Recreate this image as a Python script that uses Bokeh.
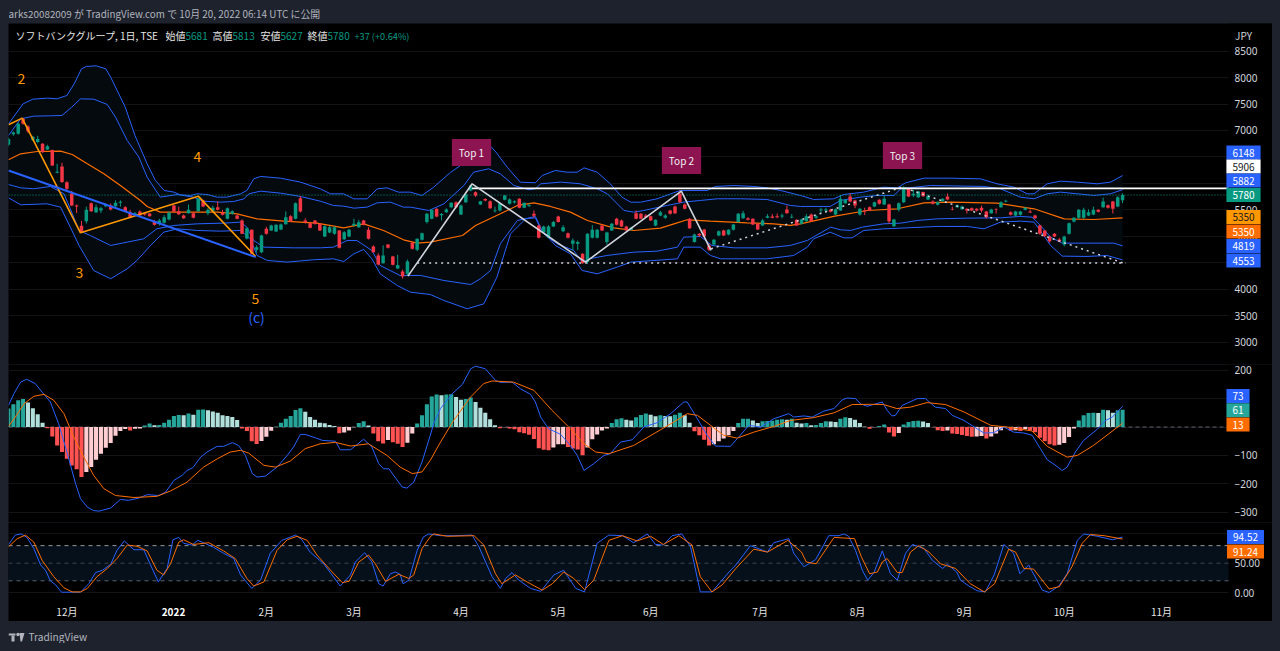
from bokeh.plotting import figure
from bokeh.models import Label, Range1d, FixedTicker, Grid, LinearAxis, NumeralTickFormatter, ColumnDataSource
from bokeh.layouts import column
from bokeh.embed import file_html
from bokeh.resources import INLINE

# ---------- daily candles ----------
opens = [6730,6930,6937,7220,7075,6824,6780,6748,6640,6630,
 6200,6320,6023,5803,5582,5200,5286,5627,5456,5488,
 5570,5583,5570,5633,5550,5456,5406,5469,5438,5431,
 5286,5236,5255,5318,5582,5475,5393,5438,5438,5475,
 5677,5438,5475,5551,5444,5330,5425,5393,5299,4959,
 5123,4745,4700,5141,5110,5091,5129,5230,5381,5330,
 5721,5299,5248,5299,5236,4997,5072,5047,5110,4946,
 4997,5205,5173,5299,5123,4808,4637,4493,4845,4619,
 4392,4335,4290,4877,4745,4934,5268,5330,5519,5400,
 5456,5551,5645,5412,5645,5866,5834,5601,5707,5664,
 5475,5488,5690,5614,5640,5709,5538,5570,5425,5204,
 5078,4971,5186,5375,5097,5060,4858,4860,4669,4512,
 4971,4971,5205,4890,5110,5330,5299,5186,5123,5437,
 5425,5394,5380,5205,5393,5350,5488,5564,5803,5601,
 5330,4890,5047,5129,4826,4845,5015,5110,5034,5123,
 5268,5343,5343,5330,5236,5205,5350,5375,5380,5375,
 5507,5355,5312,5236,5286,5412,5350,5488,5488,5500,
 5412,5488,5627,5753,5677,5412,5488,5551,5564,5690,
 5601,5601,5192,5500,5645,5897,5778,5740,5835,5696,
 5658,5595,5664,5753,5515,5551,5513,5520,5532,5520,
 5538,5469,5438,5513,5551,5660,5456,5394,5406,5500,
 5469,5394,5205,5110,4997,5047,4940,4845,5047,5280,
 5349,5349,5394,5412,5500,5551,5589,5658,5564,5681]
highs = [6870,6980,7150,7240,7100,6900,6900,6760,6730,6640,
 6370,6390,6040,5860,5600,5290,5560,5640,5600,5560,
 5620,5620,5680,5680,5570,5500,5460,5490,5450,5440,
 5310,5330,5400,5470,5590,5560,5410,5600,5460,5730,
 5690,5530,5580,5660,5500,5545,5490,5410,5320,5170,
 5130,4830,5030,5180,5220,5225,5240,5470,5400,5640,
 5760,5340,5260,5310,5245,5210,5200,5190,5120,5100,
 5140,5330,5310,5310,5170,4830,4680,4830,4850,4630,
 4650,4370,4560,4900,4960,5070,5440,5510,5530,5440,
 5530,5640,5660,5600,5810,5970,5850,5670,5720,5680,
 5560,5640,5780,5720,5680,5720,5640,5620,5490,5220,
 5200,5210,5290,5390,5210,5070,4960,4920,4680,5060,
 5210,5140,5220,5085,5250,5350,5315,5200,5180,5490,
 5440,5420,5390,5320,5480,5420,5500,5580,5860,5620,
 5345,5050,5060,5140,4860,4950,5110,5125,5135,5235,
 5440,5480,5360,5340,5250,5330,5420,5420,5430,5430,
 5580,5420,5320,5330,5420,5430,5400,5540,5540,5520,
 5525,5780,5700,5810,5690,5530,5540,5565,5655,5700,
 5770,5615,5330,5640,5945,5910,5880,5860,5845,5790,
 5680,5660,5720,5810,5560,5600,5580,5530,5545,5530,
 5580,5480,5520,5530,5660,5690,5470,5480,5480,5550,
 5510,5410,5220,5120,5010,5060,4970,5010,5260,5360,
 5515,5540,5510,5560,5510,5730,5600,5670,5760,5813]
lows = [6700,6900,6920,7110,6950,6800,6760,6580,6630,6330,
 6190,6010,5870,5570,5440,5070,5240,5460,5440,5440,
 5550,5490,5560,5560,5460,5340,5380,5370,5390,5370,
 5200,5200,5240,5300,5455,5400,5330,5430,5340,5470,
 5550,5400,5460,5490,5395,5320,5410,5320,5040,4940,
 4660,4690,4680,5030,5100,5080,5115,5220,5270,5320,
 5450,5240,5150,5220,5100,4985,5060,5030,4770,4930,
 4985,5190,5160,5205,4940,4690,4450,4480,4770,4450,
 4380,4200,4250,4750,4720,4920,5240,5320,5360,5300,
 5440,5530,5530,5400,5630,5850,5745,5590,5660,5520,
 5450,5470,5680,5600,5620,5530,5530,5560,5350,4960,
 5060,4960,5175,5260,5080,4960,4730,4740,4480,4480,
 4960,4960,5100,4840,5100,5205,5175,5100,5110,5320,
 5320,5350,5290,5190,5380,5330,5410,5420,5630,5510,
 5140,4880,4990,4985,4720,4830,5000,5005,5020,5110,
 5255,5330,5300,5210,5120,5195,5340,5340,5340,5340,
 5430,5340,5195,5225,5275,5275,5330,5440,5440,5450,
 5400,5480,5615,5645,5530,5390,5400,5475,5550,5600,
 5590,5240,5180,5470,5630,5740,5740,5725,5745,5685,
 5600,5585,5650,5680,5490,5540,5500,5430,5475,5470,
 5450,5340,5425,5430,5540,5640,5395,5380,5390,5490,
 5440,5330,5030,4990,4880,4985,4890,4810,5035,5260,
 5330,5330,5380,5400,5450,5540,5525,5430,5550,5627]
closes = [6840,6960,7126,7126,6987,6880,6840,6590,6700,6340,
 6220,6024,5897,5582,5565,5078,5500,5475,5550,5532,
 5590,5507,5633,5652,5475,5350,5438,5393,5412,5381,
 5217,5299,5362,5444,5469,5419,5343,5500,5350,5709,
 5564,5500,5538,5500,5406,5532,5475,5330,5047,5154,
 4669,4795,5015,5047,5205,5217,5223,5362,5286,5627,
 5469,5261,5160,5236,5110,5192,5173,5173,4782,5078,
 5123,5236,5267,5217,4952,4700,4467,4637,4782,4461,
 4455,4240,4525,4763,4952,5060,5425,5500,5375,5420,
 5507,5633,5551,5582,5790,5960,5772,5664,5677,5532,
 5490,5627,5772,5696,5664,5538,5633,5585,5387,4971,
 5186,5186,5268,5268,5173,4971,4921,4890,4493,5047,
 5123,5123,5110,5072,5236,5217,5186,5110,5160,5330,
 5330,5362,5299,5312,5456,5394,5425,5438,5645,5520,
 5154,5034,5015,4997,4745,4934,5097,5015,5123,5223,
 5425,5437,5312,5223,5129,5299,5381,5350,5360,5393,
 5438,5370,5205,5318,5381,5286,5381,5507,5507,5463,
 5513,5708,5690,5658,5582,5520,5470,5488,5645,5614,
 5708,5286,5318,5627,5929,5753,5803,5847,5759,5759,
 5614,5645,5708,5696,5505,5582,5564,5488,5488,5488,
 5488,5362,5507,5500,5645,5670,5406,5469,5469,5538,
 5450,5343,5047,5003,4908,4997,4902,4997,5249,5349,
 5500,5500,5456,5500,5463,5658,5538,5520,5740,5780]

# ---------- Bollinger bands (bar position, price) ----------
u2_k = [0,3,5,8,10,12,13.5,15,16,18,20,21,24,26,28.5,30.2,32,34,35.3,37.4,38.8,40.8,42.9,44.9,47.7,49,50.4,51.8,55.9,60,64.1,66.2,68.9,71,73.7,75.8,77.8,80.2,
 82.6,85,87.4,90.9,92.9,94.6,96,98.3,100.2,102.5,105.2,108.3,109.7,112.4,114.8,116.9,118.3,121,123.7,126.1,127.9,129.9,133.3,136.1,138.1,140.9,143.6,145.3,149.1,153.2,155.9,158.7,162.8,
 165.5,169.6,171.7,175.8,179.9,182.7,184.4,188.2,193.6,199.8,203.2,206.7,209.4,210.8,213.5,216.2,219.7,223.8,226.5,229]
u2_p = [7126,7504,7592,7611,7599,7662,7882,8165,8210,8222,8165,8008,7441,6905,6370,6055,5866,5835,5784,5772,5803,5790,5740,5740,5803,5866,6086,6131,6099,6024,5897,5803,5803,5708,5708,5897,5916,5834,
 5835,5772,5929,6212,6338,6559,6716,6780,6590,6307,6023,6011,6150,6244,6212,6212,6294,6212,5992,5740,5645,5645,5708,5803,5866,5866,5866,5942,5960,5942,5916,5866,5772,
 5696,5708,5790,5835,5929,5916,6011,6099,6099,6086,5992,5929,5803,5803,5992,6042,6023,5992,6023,6148]
u1_k = [0,2.5,5.2,8.6,11,13,14.8,17.5,20.3,22,24.4,26.8,28.5,31.2,34.7,38,40,43.6,46.3,48.4,49.4,51.8,55.9,60,64.1,66.8,68.9,71,73.7,75.8,78.5,81.2,
 82.6,86.4,89.5,93.6,95.6,98.7,101.1,103.9,107,108.3,109.4,113.5,117.6,121,123.1,126.5,128.5,130.6,135.4,138.8,142.2,145.7,150.5,155.9,160.7,162.8,
 168.9,171,175.1,178.6,182,183.4,189.5,200.5,203.9,208,210.8,213.5,216.2,223.1,226.5,229]
u1_p = [6905,7220,7271,7277,7284,7441,7598,7592,7491,7252,6811,6496,6118,5740,5790,5740,5664,5645,5658,5708,5803,5853,5816,5753,5664,5582,5570,5532,5551,5633,5646,5551,
 5551,5488,5614,5960,6212,6276,6181,5960,5879,5898,5992,6024,5992,5898,5803,5488,5457,5488,5583,5646,5677,5709,5709,5696,5583,5564,
 5564,5677,5740,5772,5772,5898,5960,5942,5898,5740,5709,5803,5835,5772,5803,5882]
l1_k = [0,2.5,5.2,8.6,11.4,12.7,14.5,16.8,21,24.4,27.8,30.5,34,38.8,44.2,47.7,49,50.4,52.5,58.6,64.1,66.8,69.6,71.6,74.7,76.4,80.5,
 84.7,89.5,95,97,99.1,101.1,104.6,108.3,110,112.8,116.2,117.9,119.3,123,128.5,133.3,137.5,138.8,142.2,144.6,149.1,155.9,160.7,164.2,
 169,171,173.1,175.5,179.9,183.4,186.8,190.9,197.1,203.9,208,210.4,212.1,214.2,216.6,221.7,227.2,229]
l1_p = [5979,5916,5898,5942,5803,5520,5110,5015,4827,4890,4953,5142,5205,5236,5249,5268,5173,4921,4795,4782,4782,4795,4921,4921,4732,4448,4259,
 4260,4165,4089,4197,4354,4858,5299,5375,5047,4858,4732,4511,4574,4637,4700,4719,4795,4984,4997,4827,4782,4782,4827,4921,
 5173,5123,5110,5173,5236,5249,5299,5330,5343,5349,5375,5362,5205,4984,4871,4871,4871,4819]
l2_k = [0,2.5,7.9,10.7,12.7,14.5,17.5,21,24.4,26.4,29.2,31.9,34.7,38.8,43.6,47.7,49.7,51.1,53.2,57.3,62.7,66.8,68.9,71,73,74.7,76.4,79.9,82.6,86.7,
 89.5,94.3,97.7,100.4,103.2,106.3,108.3,109.4,112.4,115.5,117.9,121,125.1,127.9,137.5,138.8,142.2,144.3,146.4,151.8,155.9,161.4,164.2,
 165.5,168.9,171.7,173.4,175.8,179.9,183.4,190.9,197.1,200.5,203.9,208,210.8,212.8,214.2,216.6,221.7,225.8,229]
l2_p = [5727,5595,5614,5551,5173,4826,4354,4197,4386,4543,4826,5078,5141,5110,5097,5110,4952,4637,4543,4512,4556,4574,4524,4669,4751,4574,4291,4070,3944,3900,
 3787,3630,3724,4228,5047,5330,5349,5141,4827,4669,4354,4291,4417,4511,4574,4795,4795,4637,4574,4574,4574,4637,4795,
 4952,5078,4971,4971,5110,5141,5154,5186,5186,5141,5268,5286,5268,5015,4827,4625,4619,4637,4553]
ma_k = [0,2.5,5.9,10.7,13.1,16.2,19.6,23,27.1,28.5,31.2,36.7,42.9,47,51.1,56.6,63.4,68.9,73,77.1,81.2,84,86.7,93.3,96,101.1,104.6,108,111.4,115.5,119,124.4,128.5,134,136.8,139.5,144.3,151.8,157.3,160.7,162.8,169.6,176.5,182.7,188.2,193.6,203.2,210.8,217,223.1,229]
ma_p = [6446,6559,6603,6609,6546,6370,6181,5960,5677,5564,5457,5457,5457,5425,5330,5286,5249,5160,5236,5110,4934,4870,4890,5015,5205,5425,5583,5633,5564,5457,5299,5160,5110,5154,5236,5312,5286,5255,5236,5205,5236,5375,5488,5520,5633,5645,5627,5520,5330,5318,5350]

# ---------- hand-drawn lines on the price pane ----------
wave_k = [0,2.8,14.8,39,50.8]
wave_p = [7107,7233,5066,5759,4619]
trend_k = [0,50.8]
trend_p = [6244,4606]
tops_k = [82.1,95.3,118.6,138.3,144.4]
tops_p = [4247,5992,4512,5853,4732]
neck_k = [95.3,250.8]
neck_p = [5906,5906]
support_k = [84,229.6]
support_p = [4495,4495]
slope_k = [144.4,183.7,229.6]
slope_p = [4764,5929,4480]
last_close = 5780

# ---------- MACD ----------
hist = [65,80,94,99,86,66,45,15,-4,-33,
 -65,-88,-112,-135,-149,-176,-158,-141,-115,-94,
 -73,-56,-31,-14,-7,-12,-6,-5,5,12,
 6,7,15,26,39,42,41,48,43,61,
 62,59,55,50,41,39,35,25,-5,-14,
 -50,-60,-49,-34,-13,1,15,29,39,60,
 66,54,35,26,15,13,7,4,-22,-19,
 -12,-1,14,20,5,-23,-50,-58,-46,-54,
 -59,-70,-55,-23,12,41,80,107,114,112,
 114,115,106,96,99,104,88,68,50,27,
 6,-4,-1,-5,-8,-18,-22,-27,-42,-75,
 -80,-82,-72,-61,-61,-70,-76,-79,-99,-72,
 -43,-26,-12,-5,14,27,31,26,23,34,
 42,48,43,38,41,39,38,43,50,41,
 15,-15,-29,-45,-65,-61,-50,-40,-29,-14,
 14,29,29,23,14,20,21,22,26,27,
 26,29,15,12,14,6,7,14,20,19,
 18,29,34,32,26,14,1,-6,-1,4,
 9,-19,-33,-21,9,18,21,22,19,14,
 -1,-11,-14,-12,-23,-25,-28,-32,-34,-33,
 -32,-40,-33,-23,-11,-1,-12,-11,-14,-8,
 -12,-18,-38,-50,-61,-65,-62,-56,-35,-5,
 23,41,49,50,49,61,59,50,59,61]
macd_k = [0,1.1,2.5,3.7,5.5,6.9,8.6,10.3,12.1,13.8,14.8,16.2,17.5,18.6,21,23,24.7,26.8,28.5,30.9,32.3,34,35.7,36.7,37.9,39.5,40.8,42.9,44.2,46,47.3,48.7,50.1,51.1,52.8,55.2,57.3,58.6,60,61,63.1,64.5,67.2,68.2,70.3,73,74.7,76.1,77.1,78.2,80.9,81.9,83.3,85,86.7,
 87.4,88.8,91.2,93.3,95,96,98,100.1,101.1,103.5,105.2,107.3,108.3,109.4,111,113.5,115.5,116.9,118.3,120.3,122.4,123.7,125.8,128.2,130.6,133.3,136.1,138.8,139.5,141.6,143.6,145.3,148.4,149.8,152.2,154.6,157.3,160.4,161.4,163.5,165.2,167.6,169.7,171.4,
 172.4,174.1,175.1,176.5,179.6,180.6,181.6,182.3,183.7,186.8,188.5,190.5,192.6,194,196.4,199.1,200.5,202.5,204.6,206.6,208.7,210.4,212.1,213.5,214.9,216.6,217.6,219.3,221,223.8,225.5,226.9,229]
macd_v = [76,117,158,168,153,123,88,12,-94,-200,-252,-282,-294,-296,-285,-255,-258,-250,-238,-241,-229,-188,-170,-153,-143,-106,-88,-68,-68,-55,-65,-100,-164,-176,-173,-141,-100,-70,-26,-26,-38,-47,-50,-80,-80,-43,-70,-129,-147,-147,-211,-215,-194,-123,-29,
 12,65,117,150,205,214,205,164,157,158,135,115,88,35,-6,-26,-65,-100,-153,-129,-100,-94,-53,-45,0,15,47,88,88,29,-29,-67,-68,-41,6,0,29,47,35,39,35,56,65,96,
 102,100,82,73,88,59,39,41,76,100,100,70,65,41,23,-6,-21,-20,0,-18,-21,-29,-76,-115,-131,-153,-141,-88,-47,-8,23,35,73]
signal_k = [0,1.4,3.2,5.2,7.3,9.3,11.4,13.4,15.5,17.5,19.6,22,25.8,30.5,33.3,36.7,40.1,42.9,45.6,47.7,49.4,52.5,54.9,57.9,61,64.1,67.2,70.3,74,77.8,80.5,83,85,86.7,
 88.8,91.5,95,97.7,99.4,103.8,108,111.7,115.5,118.3,120.7,123.4,128.5,132.7,136.8,139.5,141.6,144.3,147,149.8,153.2,157.3,160.7,165.5,169.7,
 173.4,177.2,179.9,182.6,185.4,188.8,192.6,196.4,201.9,205.3,210.4,213.5,217.6,219.7,223,229]
signal_v = [2,35,82,108,115,94,47,-35,-106,-170,-217,-241,-248,-244,-225,-194,-141,-112,-88,-82,-92,-135,-141,-120,-76,-59,-54,-67,-59,-100,-141,-164,-158,-117,
 -53,23,106,153,162,158,129,59,-6,-59,-88,-94,-65,-23,18,47,41,6,-29,-39,-18,2,23,33,50,
 79,80,79,65,70,86,79,53,6,0,-14,-68,-106,-100,-65,13]

# ---------- Stochastic ----------
stoch_k_x = [0,1.4,2.6,3.8,5.2,6.6,7.6,8.6,9.7,10.9,14.8,16.5,17.9,19.3,21,22.3,23.8,25.8,27.8,29.2,30.8,32.6,33.8,35,36,37.7,38.9,40.1,42.2,44.2,46.3,47.7,50,51.8,53.8,56.2,59,60.3,62,64.8,68.2,70.3,71.3,73.2,74.7,76.1,77,78.5,79.5,80.5,81.1,82.3,84,85.3,86.4,
 88.8,91.5,95.3,96.7,99.4,101.1,102.2,103.5,104.9,107.3,109.4,112.1,114.1,116.6,118.4,121,123.4,126.2,128.5,131.3,133,134.6,136.4,138.4,140.2,142.2,144.6,148.1,149.5,152.5,156,157.3,160.4,161.4,163.5,165.9,168.6,170.7,171.7,
 172.7,174.1,175.5,176.6,177.9,179.6,181.3,182.7,184.4,185.8,188.2,189.9,192,193,194.9,195.7,197.4,199.1,200.8,202.6,204.6,206.6,207.9,209.7,212.5,213.9,215.9,217.6,219.7,221,223.8,226.9,229]
stoch_k_v = [82,98,100,94,75,47,38,20,13,0.5,0.5,15,34,38,48,72,88,73,73,47,18,41,90,94,84,81,89,85,77,67,58,30,7,21,67,89,98,90,69,49,11,30,52,68,52,15,11,32,35,31,15,21,72,95,100,
 97,97,98,78,27,7,24,34,21,7,2,30,38,7,1,84,98,97,85,100,82,81,97,100,78,1,1,35,47,80,69,85,92,67,44,56,97,97,100,
 96,72,38,21,34,71,32,21,67,82,75,55,41,48,35,21,11,3,1,30,82,67,32,47,4,0,11,32,89,100,96,90,94.52]
stoch_d_x = [0,1.8,3.5,5.2,6.9,9.3,11.4,13.1,14.8,16.2,18.2,20.3,22.3,24.4,26.4,28.5,30.5,31.9,33.3,35,36,38,41.2,44.2,46.6,49,50.4,52.5,55.2,57.3,59.3,61.4,63.4,66.2,68.6,70,72,74,75.4,77.5,80.2,82.3,83.3,85,86.7,
 87.4,90.2,95.7,97.7,100.1,101.4,104.2,106.6,109.7,111.8,114.1,116.2,118.4,120.3,123.4,126.2,129.2,132,134.6,137.8,140.5,142.2,144.6,146.7,149.5,153.2,156,160.2,163,164,166,169.7,
 173.9,175.3,177,178.6,179.6,180.6,182.7,183.7,185.4,187.1,189.2,191.6,194.7,197.7,200.6,202.7,205.6,207,208.7,210.7,213.9,216,218.6,220.7,222.4,225.2,229]
stoch_d_v = [78,92,98,86,55,27,8,1,1,7,27,41,58,81,79,71,38,30,49,86,90,82,85,71,58,24,11,18,72,90,96,89,64,38,17,19,52,64,49,19,31,24,30,75,95,
 100,96,97,81,32,15,30,18,4,15,35,24,5,21,89,97,88,96,82,97,81,27,1,13,41,74,69,89,69,52,49,94,
 92,61,32,35,52,58,34,34,69,80,69,49,41,15,1,15,74,69,41,40,6,10,44,84,99,97,91.24]
stoch_levels = [80,50,20]

# ---------- axis labels ----------
price_ticks = [3000,3500,4000,4500,5000,5500,6000,6500,7000,7500,8000,8500]
macd_ticks = [-300,-200,-100,0,100,200]
stoch_ticks = [0,50,100]
time_ticks = [12,53,71,93,113,132,154.5,174.5,196.5,217,237]
time_labels = ["12月","2月","3月","4月","5月","6月","7月","8月","9月","10月","11月"]

# ---------- styling ----------
FONT = "Noto Sans CJK JP"
GUTTER = "#1e222d"
BLUE = "#2962ff"
ORANGE = "#ff6d00"
AMBER = "#ff9800"
UP = "#089981"
DOWN = "#f23645"
GRID = "#141418"
AXTXT = "#d1d4dc"
W = 1264
STEP = 4.865            # pixels per bar
XMAX = W / STEP         # the frame runs under the price scale, so its tags can be drawn
XEDGE = 1220 / STEP     # right end of the chart area, start of the price scale

def pane(height, y0, y1, ticks, hidden=()):
    p = figure(width=W, height=height, toolbar_location=None, output_backend="svg",
               x_range=Range1d(0, XMAX), y_range=Range1d(y0, y1),
               x_axis_type=None, y_axis_type=None, min_border=0,
               background_fill_color="black", border_fill_color="black", outline_line_color=None)
    p.add_layout(Grid(dimension=1, ticker=FixedTicker(ticks=ticks), grid_line_color=GRID, grid_line_width=1))
    p.quad(left=[XEDGE], right=[XMAX], bottom=[y0], top=[y1], fill_color="black", line_color=None)
    ax = LinearAxis(ticker=FixedTicker(ticks=ticks), fixed_location=XEDGE,
                    axis_line_color=None, major_tick_line_color=None, minor_tick_line_color=None,
                    major_tick_in=0, major_tick_out=0, minor_tick_in=0, minor_tick_out=0,
                    major_label_text_color=AXTXT, major_label_text_font="Noto Sans",
                    major_label_text_font_size="10px", major_label_standoff=6,
                    major_label_overrides={v: "" for v in hidden})
    p.add_layout(ax, "right")
    return p

def text(fig, bottom, px, py, s, color, bg=None, size="10px", style="normal", align="left", pad=0):
    fig.add_layout(Label(x=px - 8, y=bottom - py, x_units="screen", y_units="screen", text=s,
                         text_color=color, text_font=FONT, text_font_size=size, text_font_style=style,
                         text_align=align, text_baseline="middle",
                         background_fill_color=bg, padding=pad))

def blank(height):
    p = figure(width=W, height=height, toolbar_location=None, output_backend="svg",
               x_range=Range1d(0, W), y_range=Range1d(0, height),
               x_axis_type=None, y_axis_type=None, min_border=0,
               background_fill_color=GUTTER, border_fill_color=GUTTER, outline_line_color=None)
    p.grid.visible = False
    return p

# ---------- header ----------
head = blank(15)
text(head, 23, 8, 13, "arks20082009 が TradingView.com で 10月 20, 2022 06:14 UTC に公開", "#b2b5be", size="9.9px")

# ---------- price pane (page y 23..364) ----------
MB = 364
main = pane(341, 2577, 9022, price_ticks)
band_x = u2_k + l2_k[::-1]
band_y = u2_p + l2_p[::-1]
main.patch(band_x, band_y, fill_color="#040a0e", line_color=None)
for xs, ys in ((u2_k, u2_p), (u1_k, u1_p), (l1_k, l1_p), (l2_k, l2_p)):
    main.line(xs, ys, line_color=BLUE, line_width=1)
main.line(ma_k, ma_p, line_color=ORANGE, line_width=1.2)
main.line([0, XEDGE], [last_close, last_close], line_color=UP, line_width=1, line_dash=[1, 2])

bars = list(range(len(closes)))
cols = [UP if c >= o else DOWN for o, c in zip(opens, closes)]
src = ColumnDataSource(dict(x=bars, o=opens, h=highs, l=lows, c=closes, col=cols))
main.segment("x", "h", "x", "l", source=src, line_color="col", line_width=1)
main.vbar("x", 0.72, "o", "c", source=src, fill_color="col", line_color=None)

main.line(support_k, support_p, line_color="#d1d4dc", line_width=1.5, line_dash=[2, 4])
main.line(slope_k, slope_p, line_color="#d1d4dc", line_width=1.5, line_dash=[2, 4])
main.line(neck_k, neck_p, line_color="#ffffff", line_width=1.6)
main.line(wave_k, wave_p, line_color=AMBER, line_width=1.6)
main.line(trend_k, trend_p, line_color=BLUE, line_width=2)
main.line(tops_k, tops_p, line_color="#d1d4dc", line_width=1.6)

# price-pane legend
t = lambda *a, **k: text(main, MB, *a, **k)
t(15, 35, "ソフトバンクグループ, 1日, TSE", "#e6e6e6")
for lab, val, x0 in (("始値", "5681", 165), ("高値", "5813", 212), ("安値", "5627", 260), ("終値", "5780", 307)):
    t(x0, 35, lab, "#e6e6e6")
    t(x0 + 20, 35, val, UP)
t(354, 35, "+37 (+0.64%)", UP, size="9.2px")
# marks on the chart
for s, x0, y0 in (("2", 21, 78), ("3", 79, 272), ("4", 197, 156), ("5", 255, 298)):
    t(x0, y0, s, AMBER, size="14px", align="center")
t(256, 316, "(c)", BLUE, size="14px", align="center")
for s, x0, y0 in (("Top 1", 471, 152), ("Top 2", 681, 160), ("Top 3", 902, 155)):
    t(x0, y0, s, "#f0f0f0", bg="#8c1450", align="center", pad=(7, 6))
# price scale tags
t(1243, 35, "JPY", AXTXT, align="center")
for s, y0, bg, fg in (("6148", 152, BLUE, "white"), ("5906", 166, "#ffffff", "#131722"), ("5882", 180, BLUE, "white"),
                      ("5780", 194.5, UP, "white"), ("5350", 216.5, AMBER, "#131722"), ("5350", 231, ORANGE, "white"),
                      ("4819", 245.5, BLUE, "white"), ("4553", 260, BLUE, "white")):
    t(1243, y0, s, fg, bg=bg, align="center", pad=(6, 3))

# ---------- MACD pane (page y 364..522) ----------
CB = 522
macd = pane(158, -336, 220, macd_ticks, hidden=(0, 100))
macd.line([0, XEDGE], [0, 0], line_color="#5d606b", line_width=1, line_dash=[4, 3])
hcols = []
for i, v in enumerate(hist):
    prev = hist[i - 1] if i else v
    if v >= 0:
        hcols.append("#26a69a" if v >= prev else "#b2dfdb")
    else:
        hcols.append("#ff5252" if v < prev else "#ffcdd2")
macd.vbar(bars, 0.84, 0, hist, fill_color=hcols, line_color=None)
macd.line(macd_k, macd_v, line_color=BLUE, line_width=1)
macd.line(signal_k, signal_v, line_color=ORANGE, line_width=1)
for s, y0, bg in (("73", 395.5, BLUE), ("61", 409.7, "#26a69a"), ("13", 424, ORANGE)):
    text(macd, CB, 1237.5, y0, s, "white", bg=bg, align="center", pad=(6, 3))

# ---------- Stochastic pane with the time scale (page y 522..621) ----------
SB = 621
sto = pane(99, -49.5, 119.5, stoch_ticks, hidden=(100,))
sto.right[0].formatter = NumeralTickFormatter(format="0.00")
x_ax = LinearAxis(ticker=FixedTicker(ticks=time_ticks), fixed_location=-13.65,
                  major_label_overrides=dict(zip(time_ticks, time_labels)),
                  axis_line_color=None, major_tick_line_color=None, minor_tick_line_color=None,
                  major_tick_in=0, major_tick_out=0, minor_tick_in=0, minor_tick_out=0,
                  major_label_text_color="#e6e6e6", major_label_text_font=FONT,
                  major_label_text_font_size="10px", major_label_standoff=4)
sto.add_layout(x_ax, "below")
sto.varea([0, XEDGE], [stoch_levels[2]] * 2, [stoch_levels[0]] * 2, fill_color="#05101a")
for lv, c in zip(stoch_levels, ("#9598a1", "#3f424b", "#5d606b")):
    sto.line([0, XEDGE], [lv, lv], line_color=c, line_width=1, line_dash=[4, 4])
sto.line(stoch_k_x, stoch_k_v, line_color=BLUE, line_width=1)
sto.line(stoch_d_x, stoch_d_v, line_color=ORANGE, line_width=1)
text(sto, SB, 173, 611, "2022", "#ffffff", style="bold", align="center")
for s, y0, bg in (("94.52", 536.5, BLUE), ("91.24", 551, ORANGE)):
    text(sto, SB, 1245, y0, s, "white", bg=bg, align="center", pad=(6, 3))

# ---------- footer ----------
foot = blank(22)
# logo shapes measured from the footer's own bottom edge (page y 643)
foot.quad(left=[0, 3], right=[7, 6], top=[10, 8], bottom=[8, 2], fill_color="#b2b5be", line_color=None)
foot.scatter([9.5], [9], size=3.5, fill_color="#b2b5be", line_color=None)
foot.patch([11, 16, 13.5, 12], [10.5, 10.5, 2, 2], fill_color="#b2b5be", line_color=None)
text(foot, 643, 28, 635.5, "TradingView", "#b2b5be", size="10.2px")

page = column(head, main, macd, sto, foot, spacing=0, margin=(8, 0, 0, 8))
open("out.html", "w").write(
    file_html(page, INLINE).replace("<head>", "<head><style>html,body{background:#1e222d}</style>", 1))
